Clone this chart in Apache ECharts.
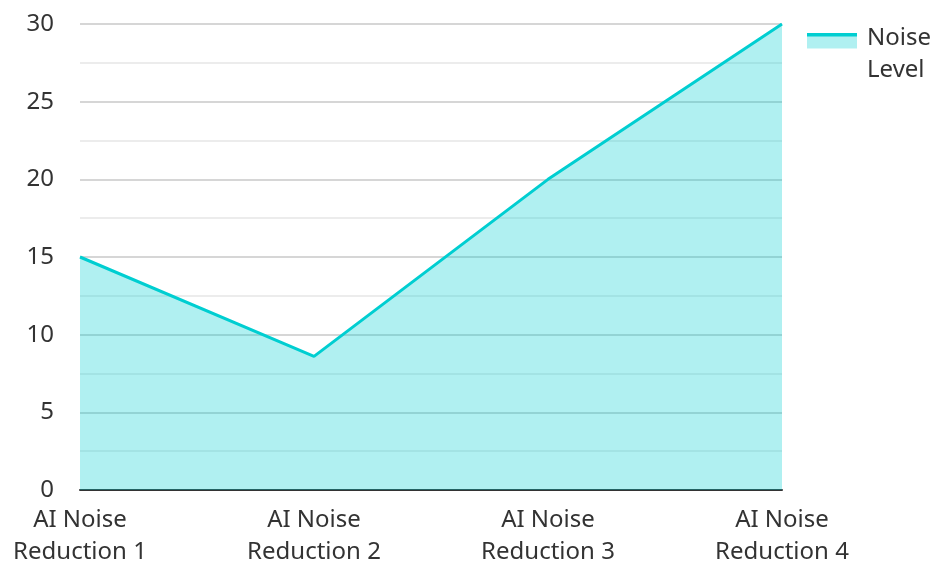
<!DOCTYPE html>
<html><head><meta charset="utf-8">
<script src="https://cdn.jsdelivr.net/npm/echarts@6/dist/echarts.min.js"></script>
<style>html,body{margin:0;padding:0;background:#fff}#c{width:934px;height:562px}</style>
</head><body><div id="c"></div>
<script>
const categories = ['AI Noise Reduction 1', 'AI Noise Reduction 2', 'AI Noise Reduction 3', 'AI Noise Reduction 4'];
const noiseLevel = [15, 8.6, 20, 30];
const seriesName = 'Noise Level';
const lineColor = '#00CED1';
const areaColor = 'rgba(0,206,209,0.31)';
const font = 'Noto Sans';

const chart = echarts.init(document.getElementById('c'));
chart.setOption({
  animation: false,
  grid: { left: 80, right: 152, top: 24, bottom: 72, outerBoundsMode: 'none', containLabel: false },
  legend: {
    left: 802, top: -1, orient: 'vertical',
    icon: 'rect', itemWidth: 50, itemHeight: 15,
    itemStyle: { color: areaColor, opacity: 1 },
    formatter: n => '{t|}\n' + n.split(' ').map(w => '{a|' + w + '}').join('\n'),
    textStyle: {
      fontFamily: font, fontSize: 24, color: '#333',
      rich: {
        t: { lineHeight: 27, fontSize: 10 },
        a: { fontFamily: font, fontSize: 24, color: '#333', lineHeight: 32, padding: [0, 0, 0, 5] }
      }
    },
    data: [seriesName]
  },
  graphic: [{ type: 'rect', shape: { x: 807, y: 33, width: 50, height: 3.5 }, style: { fill: lineColor }, z: 100 }],
  xAxis: {
    type: 'category', data: categories, boundaryGap: false,
    axisLine: { lineStyle: { color: '#333', width: 2 } },
    axisTick: { show: false },
    axisLabel: { fontFamily: font, fontSize: 24, color: '#333', lineHeight: 32, margin: 14,
      formatter: v => v.replace(' Reduction', '\nReduction') }
  },
  yAxis: {
    type: 'value', min: 0, max: 30, interval: 5,
    axisLine: { show: false }, axisTick: { show: false },
    axisLabel: { fontFamily: font, fontSize: 24, color: '#333', margin: 26 },
    splitLine: { lineStyle: { color: '#c8c8c8', width: 1.5 } },
    minorTick: { show: false, splitNumber: 2 },
    minorSplitLine: { show: true, lineStyle: { color: '#e6e6e6', width: 1.5 } }
  },
  series: [{
    name: seriesName, type: 'line', data: noiseLevel,
    symbol: 'none', lineStyle: { color: lineColor, width: 3 },
    itemStyle: { color: lineColor },
    areaStyle: { color: areaColor, opacity: 1, origin: 'start' }
  }]
});
</script></body></html>
